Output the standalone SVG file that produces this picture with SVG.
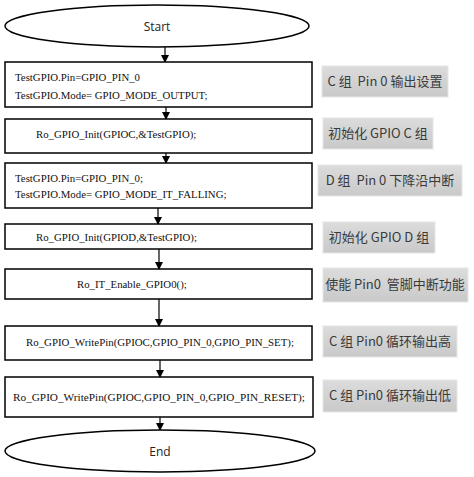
<svg xmlns="http://www.w3.org/2000/svg" width="474" height="477" viewBox="0 0 474 477">
<defs>
<marker id="ah" markerWidth="8" markerHeight="8" refX="7" refY="4" orient="auto" markerUnits="userSpaceOnUse">
<path d="M0,0 L8,4 L0,8 z" fill="#000"/>
</marker>
<linearGradient id="lg" x1="0" y1="0" x2="0" y2="1">
<stop offset="0" stop-color="#dcdcdc"/>
<stop offset="1" stop-color="#c9c9c9"/>
</linearGradient>
</defs>
<style>
.box{fill:#fff;stroke:#000;stroke-width:1.5}
.ell{fill:#fff;stroke:#000;stroke-width:1.5}
.code{font-family:"Liberation Serif","Times New Roman",serif;font-size:10.8px;fill:#111}
.term{font-family:"Open Sans","Noto Sans",sans-serif;font-size:12px;fill:#222;text-anchor:middle}
.lab{fill:url(#lg);stroke:#e6e6e6;stroke-width:1}
.lt{font-family:"Noto Sans CJK SC","Noto Sans",sans-serif;font-size:13px;fill:#3a3a3a;text-anchor:middle;white-space:pre}
.con{stroke:#000;stroke-width:1.2;fill:none;marker-end:url(#ah)}
</style>
<rect width="474" height="477" fill="#fff"/>
<g id="connectors">
<line class="con" x1="165" y1="47" x2="165" y2="62"/>
<line class="con" x1="166" y1="107" x2="166" y2="119"/>
<line class="con" x1="166" y1="153" x2="166" y2="163"/>
<line class="con" x1="158" y1="208" x2="158" y2="224"/>
<line class="con" x1="159" y1="249" x2="159" y2="269"/>
<line class="con" x1="159" y1="299" x2="159" y2="326"/>
<line class="con" x1="160" y1="360" x2="160" y2="377"/>
<line class="con" x1="160" y1="417" x2="160" y2="430"/>
</g>
<g id="start">
<ellipse class="ell" cx="157" cy="26" rx="152" ry="21"/>
<text class="term" x="157" y="31">Start</text>
</g>
<g id="n1">
<rect class="box" x="5" y="62" width="307" height="45"/>
<text class="code" x="15" y="81">TestGPIO.Pin=GPIO_PIN_0</text>
<text class="code" x="15" y="99">TestGPIO.Mode= GPIO_MODE_OUTPUT;</text>
</g>
<g id="n2">
<rect class="box" x="5" y="119" width="307" height="34"/>
<text class="code" x="36" y="138">Ro_GPIO_Init(GPIOC,&amp;TestGPIO);</text>
</g>
<g id="n3">
<rect class="box" x="5" y="163" width="307" height="45"/>
<text class="code" x="15" y="182">TestGPIO.Pin=GPIO_PIN_0;</text>
<text class="code" x="15" y="198">TestGPIO.Mode= GPIO_MODE_IT_FALLING;</text>
</g>
<g id="n4">
<rect class="box" x="5" y="224" width="307" height="25"/>
<text class="code" x="36" y="241">Ro_GPIO_Init(GPIOD,&amp;TestGPIO);</text>
</g>
<g id="n5">
<rect class="box" x="5" y="269" width="307" height="30"/>
<text class="code" x="77" y="288">Ro_IT_Enable_GPIO0();</text>
</g>
<g id="n6">
<rect class="box" x="5" y="326" width="307" height="34"/>
<text class="code" x="26" y="346" textLength="268" lengthAdjust="spacingAndGlyphs">Ro_GPIO_WritePin(GPIOC,GPIO_PIN_0,GPIO_PIN_SET);</text>
</g>
<g id="n7">
<rect class="box" x="5" y="377" width="308" height="40"/>
<text class="code" x="13" y="401" textLength="292" lengthAdjust="spacingAndGlyphs">Ro_GPIO_WritePin(GPIOC,GPIO_PIN_0,GPIO_PIN_RESET);</text>
</g>
<g id="end">
<ellipse class="ell" cx="160" cy="451" rx="155" ry="21"/>
<text class="term" x="160" y="456">End</text>
</g>
<g id="l1"><rect class="lab" x="322" y="66" width="126" height="31"/><text class="lt" x="385" y="86" xml:space="preserve">C 组  Pin 0 输出设置</text></g>
<g id="l2"><rect class="lab" x="323" y="118" width="110" height="31"/><text class="lt" x="378" y="138">初始化 GPIO C 组</text></g>
<g id="l3"><rect class="lab" x="318" y="165" width="144" height="31"/><text class="lt" x="390" y="185" xml:space="preserve">D 组  Pin 0 下降沿中断</text></g>
<g id="l4"><rect class="lab" x="323" y="222" width="112" height="31"/><text class="lt" x="379" y="242">初始化 GPIO D 组</text></g>
<g id="l5"><rect class="lab" x="323" y="268" width="145" height="34"/><text class="lt" x="395" y="289" xml:space="preserve">使能 Pin0  管脚中断功能</text></g>
<g id="l6"><rect class="lab" x="323" y="326" width="134" height="31"/><text class="lt" x="390" y="346">C 组 Pin0 循环输出高</text></g>
<g id="l7"><rect class="lab" x="323" y="380" width="134" height="32"/><text class="lt" x="390" y="400">C 组 Pin0 循环输出低</text></g>
</svg>
